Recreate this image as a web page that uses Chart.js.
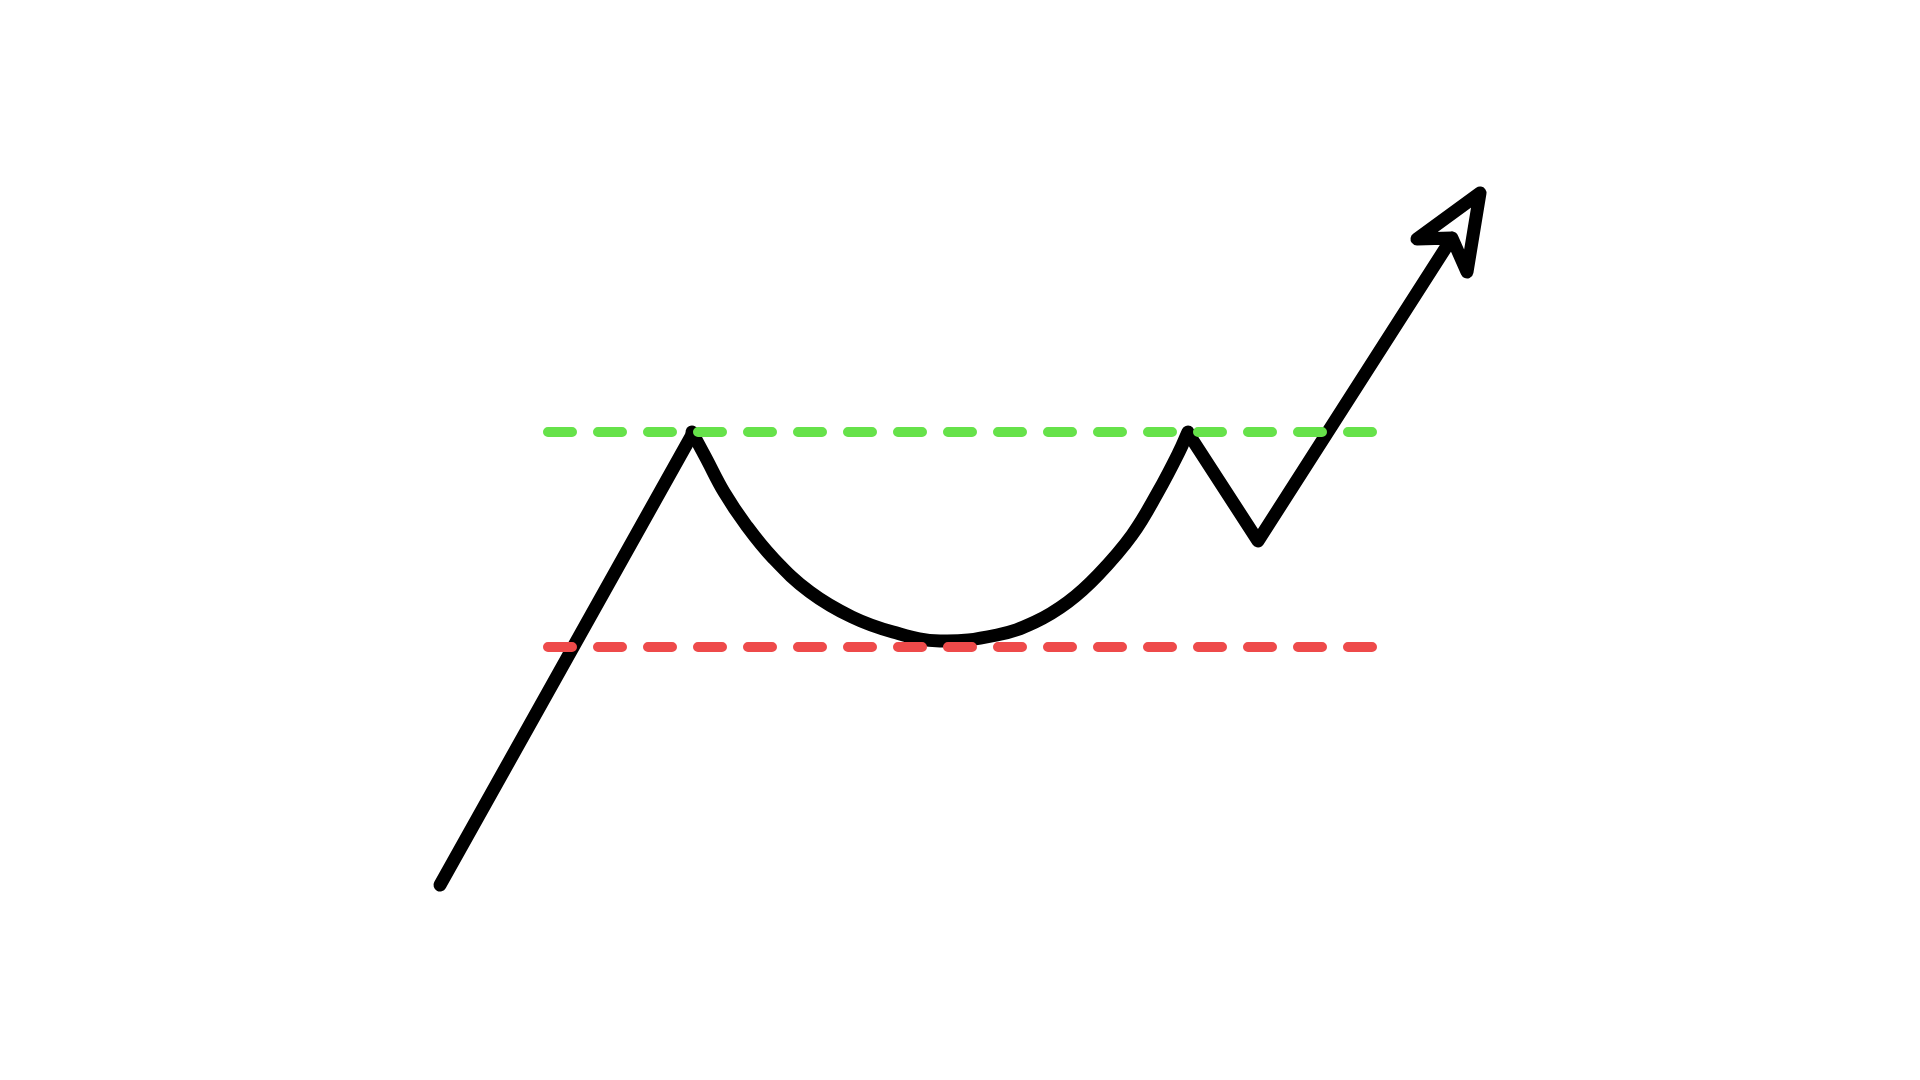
<!DOCTYPE html>
<html>
<head>
<meta charset="utf-8">
<script src="https://cdn.jsdelivr.net/npm/chart.js@4.4.1/dist/chart.umd.min.js"></script>
<style>
  html, body { margin: 0; padding: 0; background: #fff; }
  #wrap { width: 1920px; height: 1080px; }
</style>
</head>
<body>
<div id="wrap"><canvas id="myChart" width="1920" height="1080"></canvas></div>
<script>
// cup and handle sketch (x across, y down)
const legX = [440, 693];
const legY = [885, 433];

const cupX = [692, 706, 724, 746, 773, 810, 852, 893, 940, 997, 1035, 1068, 1098, 1132, 1158, 1179, 1188];
const cupY = [432, 458, 492, 525, 558, 592, 617, 632, 641, 635, 622, 602, 575, 535, 492, 452, 432];

const handleX = [1188, 1258, 1452, 1467, 1480, 1417, 1452];
const handleY = [433, 541, 238, 272, 193, 239, 238];

const levelX = [548, 1372];
const resistanceY = 432;
const supportY = 647;

const toPoints = (xs, ys) => xs.map((x, i) => ({ x: x, y: ys[i] }));

const black = {
    borderColor: '#000000',
    borderWidth: 13,
    borderCapStyle: 'round',
    borderJoinStyle: 'round',
    pointRadius: 0,
    fill: false
};

const dashed = (color, y) => ({
    data: levelX.map(x => ({ x: x, y: y })),
    borderColor: color,
    borderWidth: 10,
    borderDash: [24, 26],
    borderCapStyle: 'round',
    pointRadius: 0,
    fill: false,
    tension: 0,
    order: 0
});

const ctx = document.getElementById('myChart').getContext('2d');

const myChart = new Chart(ctx, {
    type: 'line',
    data: {
        datasets: [
            dashed('rgb(102, 226, 74)', resistanceY),
            dashed('rgb(238, 74, 74)', supportY),
            Object.assign({ data: toPoints(legX, legY), tension: 0, order: 1 }, black),
            Object.assign({ data: toPoints(cupX, cupY), tension: 0.4, order: 1 }, black),
            Object.assign({ data: toPoints(handleX, handleY), tension: 0, order: 1 }, black)
        ]
    },
    options: {
        responsive: false,
        animation: false,
        devicePixelRatio: 1,
        layout: { padding: 0 },
        plugins: {
            legend: false,
            tooltip: { enabled: false }
        },
        scales: {
            x: { type: 'linear', min: 0, max: 1920, display: false },
            y: { type: 'linear', min: 0, max: 1080, reverse: true, display: false }
        }
    }
});
</script>
</body>
</html>
